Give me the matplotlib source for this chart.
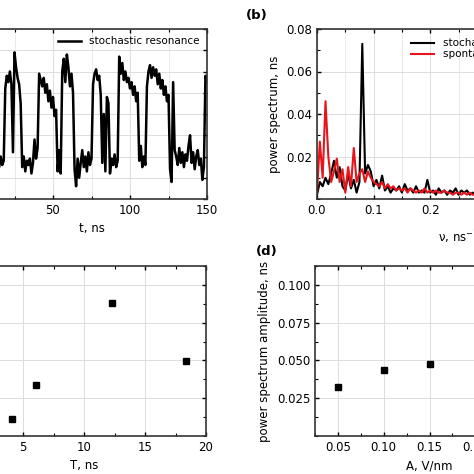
import numpy as np
import matplotlib
matplotlib.use("Agg")
import matplotlib.pyplot as plt
from matplotlib.ticker import MultipleLocator, FixedLocator

# ---- data ----
t_ns = np.arange(0, 151)
signal = [1.8,1.5,2.0,1.6,1.9,1.4,1.7,2.1,1.5,1.8,1.6,2.0,1.4,1.9,1.7,1.5,2.0,1.6,1.8,
          5.2,5.8,5.5,6.0,5.4,
          2.2,6.9,6.2,5.7,5.4,4.5,
          1.5,2.0,1.3,1.8,1.6,1.9,1.2,1.7,2.8,1.9,2.4,
          5.9,5.6,5.3,5.7,5.0,5.4,4.6,5.1,4.3,4.8,3.9,4.2,
          1.3,2.3,1.2,
          6.0,6.6,5.5,6.8,6.2,5.3,5.9,5.0,
          1.4,0.6,1.9,1.0,1.7,2.3,1.5,2.0,1.3,2.2,1.6,1.9,
          5.4,5.9,6.1,5.6,5.8,4.9,1.7,4.0,1.3,
          4.8,4.5,
          1.2,1.9,1.6,2.1,1.5,1.8,
          6.7,5.9,6.4,5.6,6.0,5.5,5.7,5.2,5.5,4.9,5.3,4.6,5.0,
          1.8,2.5,1.5,2.0,1.6,
          5.3,6.0,6.3,5.7,6.2,5.8,6.1,5.4,5.9,5.2,5.6,4.9,5.3,4.6,4.9,
          1.4,0.8,
          5.5,2.3,
          2.0,1.6,2.4,1.7,2.2,1.5,2.1,1.8,2.5,3.0,1.7,2.2,1.4,2.0,2.3,1.6,1.9,0.9,1.5,
          5.8,5.5]

freq = np.round(np.arange(0, 0.3001, 0.005), 3)
ps_stochastic = [0.002,0.008,0.006,0.010,0.007,0.012,0.018,0.010,0.015,0.006,0.004,0.012,0.005,0.009,
                 0.003,0.008,0.073,0.012,0.016,0.013,0.006,0.009,0.005,0.011,0.004,0.006,0.003,0.005,
                 0.004,0.006,0.003,0.007,0.004,0.005,0.003,0.006,0.003,0.004,0.003,0.009,0.003,0.004,
                 0.002,0.005,0.003,0.004,0.002,0.004,0.003,0.005,0.002,0.004,0.003,0.004,0.002,0.003,
                 0.002,0.003,0.002,0.003,0.002]
ps_spontaneous = [0.003,0.027,0.010,0.046,0.020,0.008,0.013,0.019,0.008,0.014,0.003,0.015,0.006,0.024,
                  0.008,0.012,0.014,0.008,0.013,0.010,0.008,0.007,0.006,0.008,0.005,0.007,0.005,0.006,
                  0.004,0.005,0.004,0.005,0.003,0.005,0.004,0.003,0.004,0.003,0.005,0.003,0.004,0.003,
                  0.004,0.003,0.003,0.004,0.003,0.003,0.002,0.003,0.003,0.002,0.003,0.002,0.003,0.002,
                  0.002,0.002,0.002,0.002,0.002]

period_T = [4.1, 6.1, 12.3, 18.4]
amp_vs_T = [0.0115, 0.0338, 0.0882, 0.0494]

field_A = [0.05, 0.10, 0.15]
amp_vs_A = [0.0324, 0.0439, 0.0474]

# ---- figure ----
W = 474
fig = plt.figure(figsize=(4.74, 4.74), dpi=100)
plt.rcParams['font.family'] = ['DejaVu Sans']
FS = 8.5

def ax_px(l, t, r, b):
    return fig.add_axes([l / W, 1 - b / W, (r - l) / W, (b - t) / W])

def style(ax, minor_x_grid=False):
    for s in ax.spines.values():
        s.set_linewidth(1.2)
        s.set_color('#333333')
    ax.tick_params(direction='in', top=True, right=True, labelsize=FS, length=3, width=1)
    ax.tick_params(which='minor', direction='in', top=True, right=True, length=2, width=0.8)
    ax.grid(True, which='major', color='#dddddd', linewidth=0.7)
    if minor_x_grid:
        ax.grid(True, which='minor', axis='x', color='#e6e6e6', linewidth=0.6)
    ax.set_axisbelow(True)

# (a)
axa = ax_px(-24, 29, 207, 199)
axa.plot(t_ns, signal, color='black', lw=1.8, label='stochastic resonance')
axa.set_xlim(0, 150); axa.set_ylim(0, 8)
axa.xaxis.set_major_locator(MultipleLocator(50)); axa.xaxis.set_minor_locator(MultipleLocator(25))
axa.yaxis.set_major_locator(MultipleLocator(1))
axa.set_yticklabels([])
style(axa, True)
axa.set_xlabel('t, ns', fontsize=FS)
axa.legend(loc='upper right', fontsize=FS - 1, frameon=False, handlelength=2.2,
           borderaxespad=0.3)

# (b)
axb = ax_px(317, 29, 600, 199)
axb.plot(freq, ps_stochastic, color='black', lw=1.5, label='stochastic resonance')
axb.plot(freq, ps_spontaneous, color='#e8141b', lw=1.5, label='spontaneous switching')
axb.set_xlim(0, 0.5); axb.set_ylim(0, 0.08)
axb.xaxis.set_major_locator(MultipleLocator(0.1)); axb.xaxis.set_minor_locator(MultipleLocator(0.05))
axb.yaxis.set_major_locator(FixedLocator([0.02, 0.04, 0.06, 0.08]))
axb.yaxis.set_minor_locator(MultipleLocator(0.01))
style(axb, True)
axb.set_xlabel('ν, ns$^{-1}$', fontsize=FS, labelpad=8)
axb.set_ylabel('power spectrum, ns', fontsize=FS)
axb.legend(loc='upper left', bbox_to_anchor=(0.3, 1.0), fontsize=FS - 1, frameon=False,
           handlelength=2.2, labelspacing=0.1)
fig.text(257 / W, 1 - 15 / W, '(b)', fontsize=9.5, fontweight='bold', ha='center', va='center')

# (c)
axc = ax_px(-38, 266, 206, 436)
axc.plot(period_T, amp_vs_T, 's', color='black', ms=4.5)
axc.set_xlim(0, 20); axc.set_ylim(0, 0.1125)
axc.xaxis.set_major_locator(MultipleLocator(5)); axc.xaxis.set_minor_locator(MultipleLocator(2.5))
axc.yaxis.set_major_locator(FixedLocator([0.025, 0.05, 0.075, 0.1]))
axc.yaxis.set_minor_locator(MultipleLocator(0.0125))
axc.set_yticklabels([])
style(axc)
axc.set_xlabel('T, ns', fontsize=FS)

# (d)
axd = ax_px(315, 266, 544, 436)
axd.plot(field_A, amp_vs_A, 's', color='black', ms=4.5)
axd.set_xlim(0.025, 0.275); axd.set_ylim(0, 0.1125)
axd.xaxis.set_major_locator(MultipleLocator(0.05)); axd.xaxis.set_minor_locator(MultipleLocator(0.025))
axd.yaxis.set_major_locator(FixedLocator([0.025, 0.05, 0.075, 0.1]))
axd.yaxis.set_minor_locator(MultipleLocator(0.0125))
axd.xaxis.set_major_formatter(matplotlib.ticker.FormatStrFormatter('%.2f'))
axd.yaxis.set_major_formatter(matplotlib.ticker.FormatStrFormatter('%.3f'))
style(axd)
axd.set_xlabel('A, V/nm', fontsize=FS)
axd.set_ylabel('power spectrum amplitude, ns', fontsize=FS)
fig.text(267 / W, 1 - 252 / W, '(d)', fontsize=9.5, fontweight='bold', ha='center', va='center')

fig.savefig('out.png', dpi=100)
